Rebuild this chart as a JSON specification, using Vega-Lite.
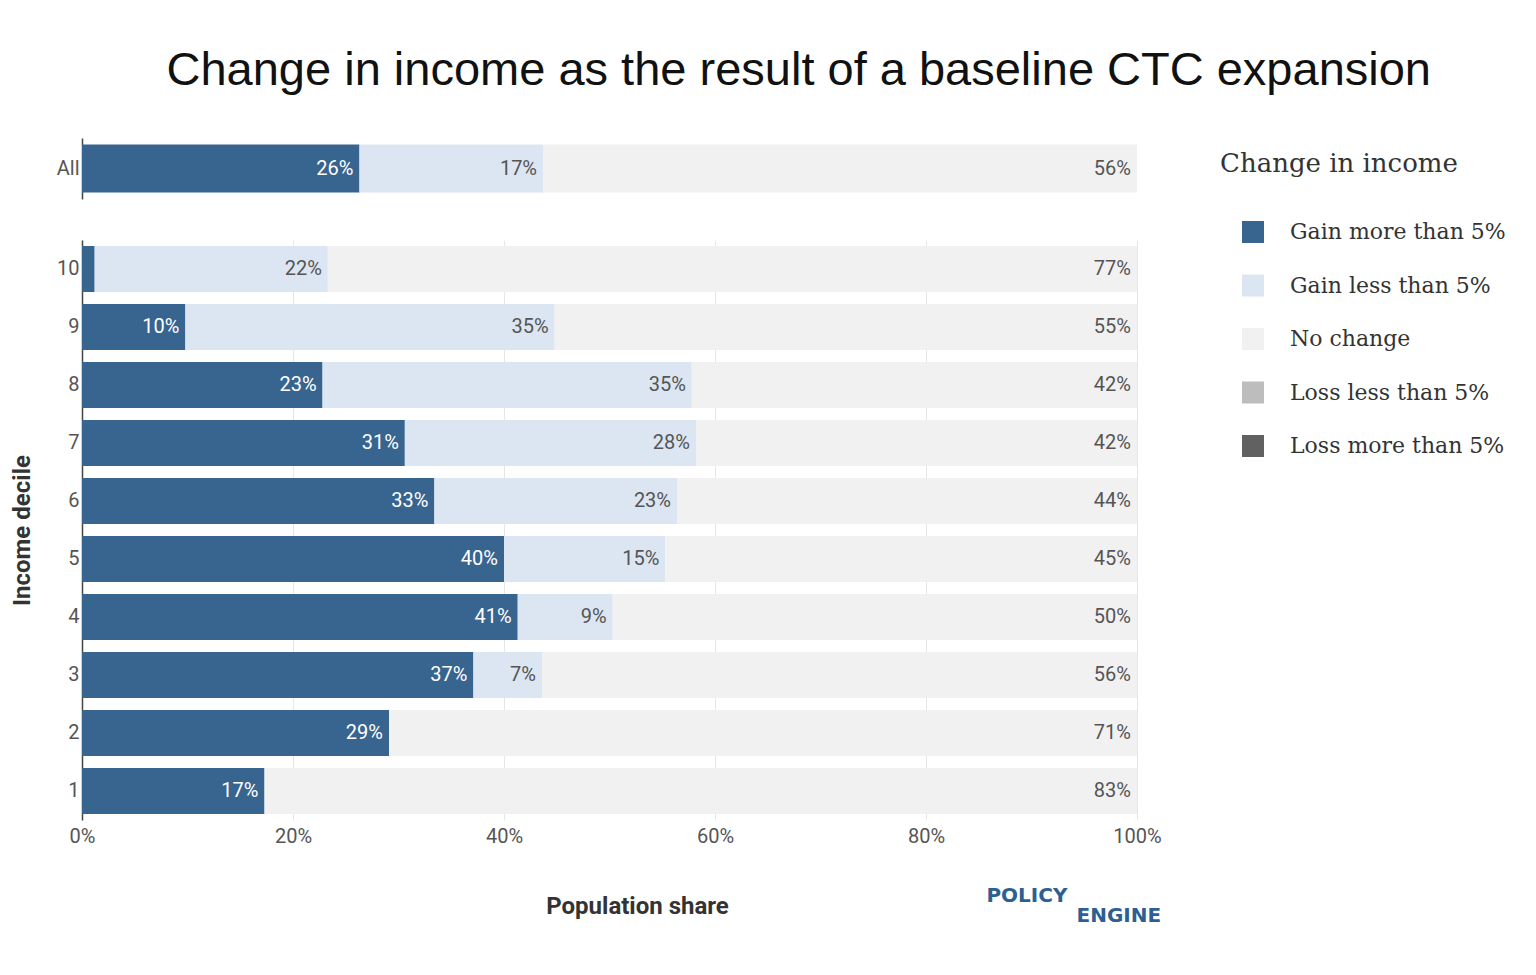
{
  "$schema": "https://vega.github.io/schema/vega-lite/v6.json",
  "padding": {"left": 10, "top": 47, "right": 10, "bottom": 10},
  "background": "white",
  "title": {"text": "Change in income as the result of a baseline CTC expansion", "fontSize": 47, "font": "Liberation Sans", "fontWeight": "normal", "color": "#111", "anchor": "middle", "offset": 43, "dx": 34},
  "datasets": {
    "rows": [
      {"decile": "All", "cat": "Gain more than 5%", "order": 1, "value": 0.263},
      {"decile": "All", "cat": "Gain less than 5%", "order": 2, "value": 0.174},
      {"decile": "All", "cat": "No change", "order": 3, "value": 0.563},
      {"decile": "10", "cat": "Gain more than 5%", "order": 1, "value": 0.012},
      {"decile": "10", "cat": "Gain less than 5%", "order": 2, "value": 0.221},
      {"decile": "10", "cat": "No change", "order": 3, "value": 0.767},
      {"decile": "9", "cat": "Gain more than 5%", "order": 1, "value": 0.098},
      {"decile": "9", "cat": "Gain less than 5%", "order": 2, "value": 0.350},
      {"decile": "9", "cat": "No change", "order": 3, "value": 0.552},
      {"decile": "8", "cat": "Gain more than 5%", "order": 1, "value": 0.228},
      {"decile": "8", "cat": "Gain less than 5%", "order": 2, "value": 0.350},
      {"decile": "8", "cat": "No change", "order": 3, "value": 0.422},
      {"decile": "7", "cat": "Gain more than 5%", "order": 1, "value": 0.306},
      {"decile": "7", "cat": "Gain less than 5%", "order": 2, "value": 0.276},
      {"decile": "7", "cat": "No change", "order": 3, "value": 0.418},
      {"decile": "6", "cat": "Gain more than 5%", "order": 1, "value": 0.334},
      {"decile": "6", "cat": "Gain less than 5%", "order": 2, "value": 0.230},
      {"decile": "6", "cat": "No change", "order": 3, "value": 0.436},
      {"decile": "5", "cat": "Gain more than 5%", "order": 1, "value": 0.400},
      {"decile": "5", "cat": "Gain less than 5%", "order": 2, "value": 0.153},
      {"decile": "5", "cat": "No change", "order": 3, "value": 0.447},
      {"decile": "4", "cat": "Gain more than 5%", "order": 1, "value": 0.413},
      {"decile": "4", "cat": "Gain less than 5%", "order": 2, "value": 0.090},
      {"decile": "4", "cat": "No change", "order": 3, "value": 0.497},
      {"decile": "3", "cat": "Gain more than 5%", "order": 1, "value": 0.371},
      {"decile": "3", "cat": "Gain less than 5%", "order": 2, "value": 0.065},
      {"decile": "3", "cat": "No change", "order": 3, "value": 0.564},
      {"decile": "2", "cat": "Gain more than 5%", "order": 1, "value": 0.291},
      {"decile": "2", "cat": "No change", "order": 3, "value": 0.709},
      {"decile": "1", "cat": "Gain more than 5%", "order": 1, "value": 0.173},
      {"decile": "1", "cat": "No change", "order": 3, "value": 0.827}
    ]
  },
  "data": {"name": "rows"},
  "transform": [
    {"stack": "value", "groupby": ["decile"], "sort": [{"field": "order", "order": "ascending"}], "as": ["x0", "x1"]}
  ],
  "spacing": 41,
  "vconcat": [
    {
      "width": 1055,
      "height": 61,
      "transform": [{"filter": "datum.decile == 'All'"}],
      "encoding": {
        "y": {"field": "decile", "type": "nominal", "axis": {"title": null}}
      },
      "layer": [
        {
          "mark": {"type": "bar", "size": 48},
          "encoding": {
            "x": {"field": "x0", "type": "quantitative", "scale": {"domain": [0, 1]}, "axis": null},
            "x2": {"field": "x1"},
            "color": {"field": "cat", "type": "nominal", "title": "Change in income",
              "scale": {"domain": ["Gain more than 5%", "Gain less than 5%", "No change", "Loss less than 5%", "Loss more than 5%"],
                        "range": ["#386490", "#DCE6F2", "#F1F1F1", "#BDBDBD", "#616161"]}}
          }
        },
        {
          "mark": {"type": "text", "align": "right", "baseline": "middle", "dx": -6, "fontSize": 20, "font": "Roboto"},
          "transform": [{"filter": "datum.value >= 0.05"}],
          "encoding": {
            "x": {"field": "x1", "type": "quantitative"},
            "text": {"field": "value", "type": "quantitative", "format": ".0%"},
            "color": {"condition": {"test": "datum.cat == 'Gain more than 5%'", "value": "white"}, "value": "#555555"}
          }
        }
      ]
    },
    {
      "width": 1055,
      "height": 580,
      "title": {"text": "POLICY\u2800\u2800\u2800\u2800\u2800\u2800", "subtitle": "ENGINE", "orient": "bottom", "anchor": "end", "fontSize": 20, "subtitleFontSize": 20, "font": "DejaVu Sans", "subtitleFont": "DejaVu Sans", "fontWeight": "bold", "subtitleFontWeight": "bold", "color": "#2C5F92", "subtitleColor": "#2C5F92", "offset": -32, "subtitlePadding": 0, "dx": 0},
      "transform": [{"filter": "datum.decile != 'All'"}],
      "encoding": {
        "y": {"field": "decile", "type": "ordinal", "sort": ["10", "9", "8", "7", "6", "5", "4", "3", "2", "1"],
              "scale": {"paddingInner": 0.2, "paddingOuter": 0.1},
              "axis": {"title": "Income decile", "titleFontSize": 24, "titleFont": "Roboto", "titleFontWeight": "bold", "titleColor": "#333", "titlePadding": 22}}
      },
      "layer": [
        {
          "mark": {"type": "bar", "size": 46},
          "encoding": {
            "x": {"field": "x0", "type": "quantitative", "scale": {"domain": [0, 1]},
                  "axis": {"title": "Population share", "format": ".0%", "values": [0, 0.2, 0.4, 0.6, 0.8, 1],
                           "grid": true, "gridColor": "#e6e6e6", "gridWidth": 1, "domain": false, "ticks": false, "labelFlush": false,
                           "labelFontSize": 20, "labelFont": "Roboto", "labelColor": "#555", "labelPadding": 6,
                           "titleFontSize": 24, "titleFont": "Roboto", "titleFontWeight": "bold", "titleColor": "#333", "titlePadding": 48, "titleX": 555}},
            "x2": {"field": "x1"},
            "color": {"field": "cat", "type": "nominal", "title": "Change in income",
              "scale": {"domain": ["Gain more than 5%", "Gain less than 5%", "No change", "Loss less than 5%", "Loss more than 5%"],
                        "range": ["#386490", "#DCE6F2", "#F1F1F1", "#BDBDBD", "#616161"]}}
          }
        },
        {
          "mark": {"type": "text", "align": "right", "baseline": "middle", "dx": -6, "fontSize": 20, "font": "Roboto"},
          "transform": [{"filter": "datum.value >= 0.05"}],
          "encoding": {
            "x": {"field": "x1", "type": "quantitative"},
            "text": {"field": "value", "type": "quantitative", "format": ".0%"},
            "color": {"condition": {"test": "datum.cat == 'Gain more than 5%'", "value": "white"}, "value": "#555555"}
          }
        }
      ]
    }
  ],
  "config": {
    "view": {"stroke": null},
    "axisY": {"domain": true, "domainColor": "#444", "domainWidth": 1.5, "ticks": false, "grid": false,
              "labelFontSize": 20, "labelFont": "Roboto", "labelColor": "#555", "labelPadding": 3},
    "legend": {"orient": "right", "offset": 45, "padding": 13,
               "titleFont": "DejaVu Serif", "titleFontSize": 26, "titleFontWeight": "normal", "titleColor": "#333", "titlePadding": 44, "titleLimit": 0,
               "labelFont": "DejaVu Serif", "labelFontSize": 22, "labelColor": "#333", "labelOffset": 26, "labelLimit": 0,
               "symbolType": "square", "symbolSize": 484, "symbolStrokeWidth": 0, "symbolOffset": 22, "rowPadding": 31.5}
  }
}
